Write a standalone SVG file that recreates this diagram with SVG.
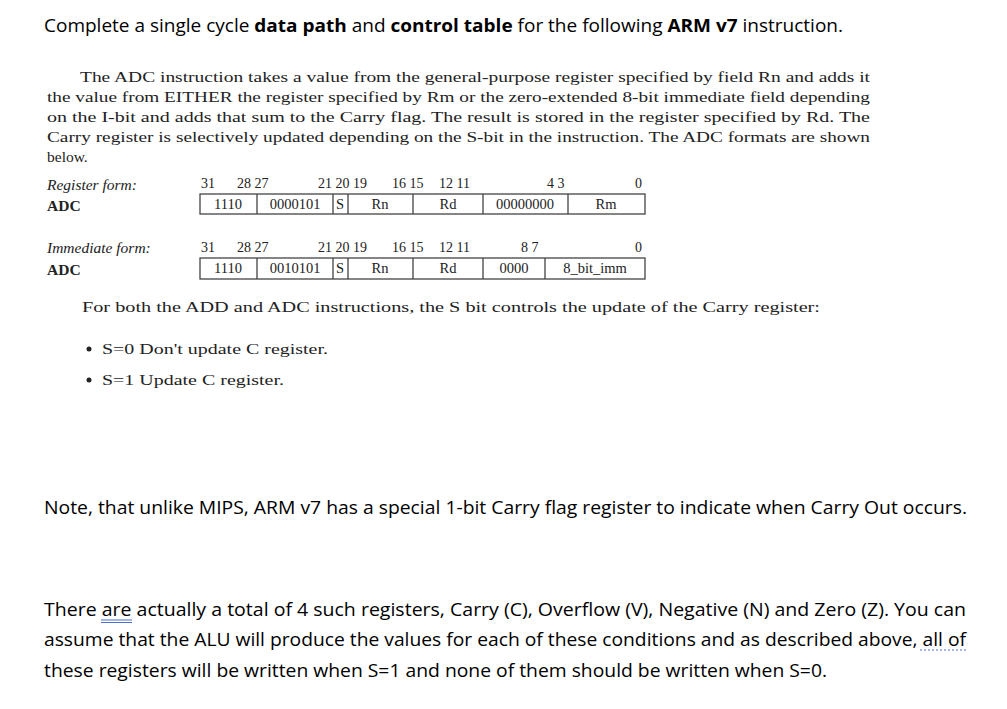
<svg xmlns="http://www.w3.org/2000/svg" width="1007" height="709" viewBox="0 0 1007 709">
<style>
.s{font-family:"Open Sans","Liberation Sans",Arial,sans-serif;font-size:17.5px;fill:#000}
.r{font-family:"Liberation Serif","Times New Roman",serif;font-size:15.5px;fill:#222}
.n{font-family:"Liberation Serif","Times New Roman",serif;font-size:14px;fill:#222}
.c{font-family:"Liberation Serif","Times New Roman",serif;font-size:14.5px;fill:#222;text-anchor:middle}
.box{fill:#fff;stroke:#444;stroke-width:1.3}
</style>
<rect width="1007" height="709" fill="#fff"/>
<text class="s" x="44" y="32" textLength="799" lengthAdjust="spacingAndGlyphs">Complete a single cycle <tspan font-weight="bold">data path</tspan> and <tspan font-weight="bold">control table</tspan> for the following <tspan font-weight="bold">ARM v7</tspan> instruction.</text>
<g id="para">
<text class="r" x="80" y="82" textLength="790" lengthAdjust="spacingAndGlyphs">The ADC instruction takes a value from the general-purpose register specified by field Rn and adds it</text>
<text class="r" x="47" y="102" textLength="823" lengthAdjust="spacingAndGlyphs">the value from EITHER the register specified by Rm or the zero-extended 8-bit immediate field depending</text>
<text class="r" x="47" y="122" textLength="823" lengthAdjust="spacingAndGlyphs">on the I-bit and adds that sum to the Carry flag. The result is stored in the register specified by Rd. The</text>
<text class="r" x="47" y="142" textLength="823" lengthAdjust="spacingAndGlyphs">Carry register is selectively updated depending on the S-bit in the instruction. The ADC formats are shown</text>
<text class="r" x="47" y="162">below.</text>
</g>
<g id="register-form">
<text class="r" x="47" y="190" font-style="italic">Register form:</text>
<text class="r" x="47" y="211" font-weight="bold">ADC</text>
<g class="n"><text x="201" y="188">31</text><text x="237" y="188">28 27</text><text x="318" y="188">21 20 19</text><text x="392" y="188">16 15</text><text x="439" y="188">12 11</text><text x="547" y="188">4 3</text><text x="635" y="188">0</text></g>
<rect class="box" x="200" y="194" width="445" height="20"/>
<path d="M257 194v20M333 194v20M348 194v20M413 194v20M483 194v20M568 194v20" stroke="#444" stroke-width="1.3"/>
<g class="c"><text x="228" y="209">1110</text><text x="295" y="209">0000101</text><text x="340" y="209">S</text><text x="380" y="209">Rn</text><text x="448" y="209">Rd</text><text x="525" y="209">00000000</text><text x="606" y="209">Rm</text></g>
</g>
<g id="immediate-form">
<text class="r" x="47" y="253" font-style="italic">Immediate form:</text>
<text class="r" x="47" y="275" font-weight="bold">ADC</text>
<g class="n"><text x="201" y="252">31</text><text x="237" y="252">28 27</text><text x="318" y="252">21 20 19</text><text x="392" y="252">16 15</text><text x="439" y="252">12 11</text><text x="521" y="252">8 7</text><text x="635" y="252">0</text></g>
<rect class="box" x="200" y="258" width="445" height="21"/>
<path d="M257 258v21M333 258v21M348 258v21M413 258v21M483 258v21M545 258v21" stroke="#444" stroke-width="1.3"/>
<g class="c"><text x="228" y="273">1110</text><text x="295" y="273">0010101</text><text x="340" y="273">S</text><text x="380" y="273">Rn</text><text x="448" y="273">Rd</text><text x="514" y="273">0000</text><text x="595" y="273">8_bit_imm</text></g>
</g>
<g id="sbit">
<text class="n" x="82" y="312" textLength="738" lengthAdjust="spacingAndGlyphs">For both the ADD and ADC instructions, the S bit controls the update of the Carry register:</text>
<circle cx="89" cy="349" r="2.5" fill="#222"/>
<text class="r" x="102" y="354" textLength="226" lengthAdjust="spacingAndGlyphs">S=0  Don't update C register.</text>
<circle cx="89" cy="380" r="2.5" fill="#222"/>
<text class="r" x="102" y="385" textLength="182" lengthAdjust="spacingAndGlyphs">S=1  Update C register.</text>
</g>
<text class="s" x="44" y="514" textLength="923" lengthAdjust="spacingAndGlyphs">Note, that unlike MIPS, ARM v7 has a special 1-bit Carry flag register to indicate when Carry Out occurs.</text>
<g id="last">
<text class="s" x="44" y="616" textLength="922" lengthAdjust="spacingAndGlyphs">There are actually a total of 4 such registers, Carry (C), Overflow (V), Negative (N) and Zero (Z).  You can</text>
<text class="s" x="44" y="646" textLength="922" lengthAdjust="spacingAndGlyphs">assume that the ALU will produce the values for each of these conditions and as described above, all of</text>
<text class="s" x="44" y="677" textLength="783" lengthAdjust="spacingAndGlyphs">these registers will be written when S=1 and none of them should be written when S=0.</text>
<path d="M101 620h31M101 622.5h31" stroke="#4a6fd1" stroke-width="1"/>
<path d="M920 650h46" stroke="#4a6fd1" stroke-width="1.2" stroke-dasharray="2,2"/>
</g>
</svg>
